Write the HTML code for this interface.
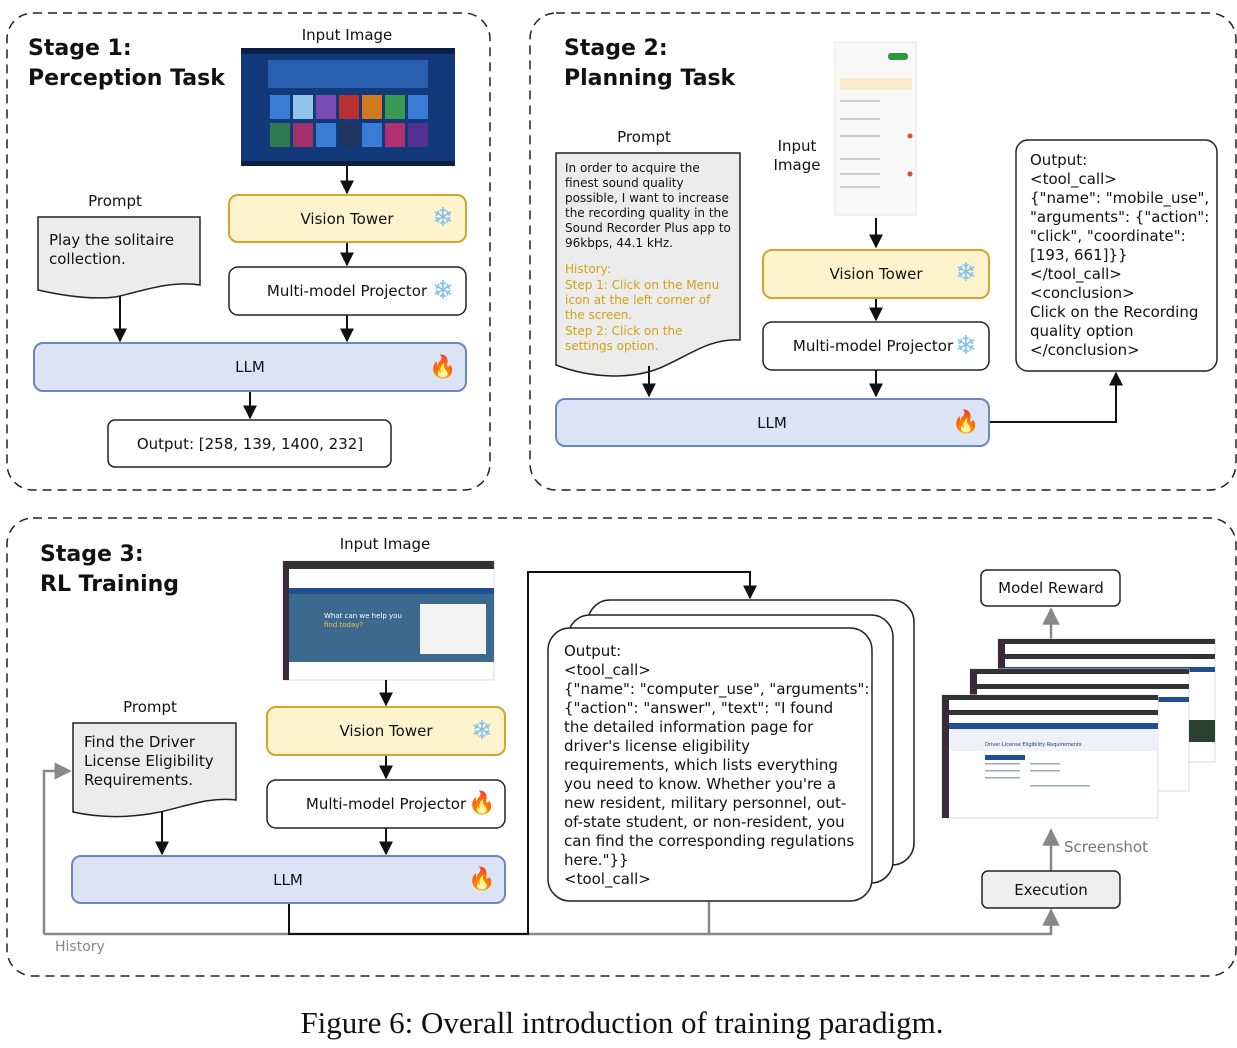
<!DOCTYPE html>
<html><head><meta charset="utf-8"><style>
body{margin:0;background:#fff;}
svg text{font-family:"DejaVu Sans","Liberation Sans",sans-serif;fill:#111;}
.t{font-size:15px}
.s{font-size:12px}
.h{font-size:22px;font-weight:bold}
</style></head><body>
<svg width="1237" height="1043" viewBox="0 0 1237 1043" xmlns="http://www.w3.org/2000/svg">
<defs>
<marker id="a" viewBox="0 0 10 10" refX="9" refY="5" markerWidth="7" markerHeight="7" orient="auto"><path d="M0,0L10,5L0,10z" fill="#111"/></marker>
<marker id="g" viewBox="0 0 10 10" refX="9" refY="5" markerWidth="7" markerHeight="7" orient="auto"><path d="M0,0L10,5L0,10z" fill="#888"/></marker>
</defs>
<g fill="none" stroke="#222" stroke-width="1.5" stroke-dasharray="9,6">
<rect x="7" y="13" width="483" height="477" rx="26"/>
<rect x="530" y="13" width="706" height="477" rx="26"/>
<rect x="7" y="518" width="1229" height="458" rx="26"/>
</g>
<!-- Stage 1 -->
<text class="h" x="28" y="55">Stage 1:</text>
<text class="h" x="28" y="85">Perception Task</text>
<text class="t" x="347" y="40" text-anchor="middle">Input Image</text>
<rect x="241" y="48" width="214" height="118" fill="#123a7a"/>
<rect x="241" y="48" width="214" height="6" fill="#0c1f44"/>
<rect x="268" y="60" width="160" height="28" fill="#2a5fb0"/>
<g fill="#3a7bd5"><rect x="270" y="95" width="20" height="24"/><rect x="293" y="95" width="20" height="24" fill="#8fc3e8"/><rect x="316" y="95" width="20" height="24" fill="#7a4bb0"/><rect x="339" y="95" width="20" height="24" fill="#b83030"/><rect x="362" y="95" width="20" height="24" fill="#d07a20"/><rect x="385" y="95" width="20" height="24" fill="#3a9a50"/><rect x="408" y="95" width="20" height="24"/>
<rect x="270" y="123" width="20" height="24" fill="#2f7a50"/><rect x="293" y="123" width="20" height="24" fill="#a0306a"/><rect x="316" y="123" width="20" height="24"/><rect x="339" y="123" width="20" height="24" fill="#1e3560"/><rect x="362" y="123" width="20" height="24"/><rect x="385" y="123" width="20" height="24" fill="#b03070"/><rect x="408" y="123" width="20" height="24" fill="#503090"/></g>
<rect x="241" y="161" width="214" height="5" fill="#0c1f44"/>
<g stroke="#111" stroke-width="2" fill="none">
<line x1="347" y1="166" x2="347" y2="193" marker-end="url(#a)"/>
<line x1="347" y1="242" x2="347" y2="265" marker-end="url(#a)"/>
<line x1="347" y1="315" x2="347" y2="341" marker-end="url(#a)"/>
<line x1="120" y1="292" x2="120" y2="341" marker-end="url(#a)"/>
<line x1="250" y1="391" x2="250" y2="418" marker-end="url(#a)"/>
</g>
<rect x="229" y="195" width="237" height="47" rx="9" fill="#fdf3cc" stroke="#d4a52a" stroke-width="2"/>
<text class="t" x="347" y="224" text-anchor="middle">Vision Tower</text>
<text x="443" y="226" font-size="26" text-anchor="middle" style="fill:#7fc0ee">❄</text>
<rect x="229" y="267" width="237" height="48" rx="9" fill="#fff" stroke="#222" stroke-width="1.5"/>
<text class="t" x="347" y="296" text-anchor="middle">Multi-model Projector</text>
<text x="443" y="299" font-size="26" text-anchor="middle" style="fill:#7fc0ee">❄</text>
<text class="t" x="115" y="206" text-anchor="middle">Prompt</text>
<path d="M38,217H200V285C170,280 140,292 115,297C90,300 60,295 38,290Z" fill="#ececec" stroke="#222" stroke-width="1.5"/>
<text class="t" x="49" y="245">Play the solitaire</text>
<text class="t" x="49" y="264">collection.</text>
<rect x="34" y="343" width="432" height="48" rx="9" fill="#dbe4f5" stroke="#6b86c0" stroke-width="2"/>
<text class="t" x="250" y="372" text-anchor="middle">LLM</text>
<text x="443" y="374" font-size="22" text-anchor="middle">🔥</text>
<rect x="108" y="420" width="283" height="47" rx="7" fill="#fff" stroke="#222" stroke-width="1.5"/>
<text class="t" x="250" y="449" text-anchor="middle">Output: [258, 139, 1400, 232]</text>
<!-- Stage 2 -->
<text class="h" x="564" y="55">Stage 2:</text>
<text class="h" x="564" y="85">Planning Task</text>
<text class="t" x="644" y="142" text-anchor="middle">Prompt</text>
<path d="M556,153H740V340C710,338 690,355 660,368C630,380 590,378 556,365Z" fill="#ececec" stroke="#222" stroke-width="1.5"/>
<g class="s">
<text x="565" y="172">In order to acquire the</text>
<text x="565" y="187">finest sound quality</text>
<text x="565" y="202">possible, I want to increase</text>
<text x="565" y="217">the recording quality in the</text>
<text x="565" y="232">Sound Recorder Plus app to</text>
<text x="565" y="247">96kbps, 44.1 kHz.</text>
<text x="565" y="273" style="fill:#d4a017">History:</text>
<text x="565" y="289" style="fill:#d4a017">Step 1: Click on the Menu</text>
<text x="565" y="304" style="fill:#d4a017">icon at the left corner of</text>
<text x="565" y="319" style="fill:#d4a017">the screen.</text>
<text x="565" y="335" style="fill:#d4a017">Step 2: Click on the</text>
<text x="565" y="350" style="fill:#d4a017">settings option.</text>
</g>
<text class="t" x="797" y="151" text-anchor="middle">Input</text>
<text class="t" x="797" y="170" text-anchor="middle">Image</text>
<rect x="835" y="42" width="81" height="173" fill="#f8f8f8" stroke="#e4e4e4"/>
<rect x="840" y="78" width="72" height="12" fill="#fbeccd"/>
<rect x="888" y="53" width="20" height="7" rx="3" fill="#2a9a3a"/>
<g fill="#ccc"><rect x="840" y="100" width="40" height="2"/><rect x="840" y="118" width="40" height="2"/><rect x="840" y="135" width="40" height="2"/><rect x="840" y="158" width="40" height="2"/><rect x="840" y="173" width="40" height="2"/><rect x="840" y="186" width="40" height="2"/></g>
<g fill="#e04a2a"><circle cx="910" cy="136" r="2.5"/><circle cx="910" cy="174" r="2.5"/></g>
<g stroke="#111" stroke-width="2" fill="none">
<line x1="876" y1="218" x2="876" y2="247" marker-end="url(#a)"/>
<line x1="876" y1="298" x2="876" y2="320" marker-end="url(#a)"/>
<line x1="876" y1="370" x2="876" y2="396" marker-end="url(#a)"/>
<line x1="649" y1="366" x2="649" y2="396" marker-end="url(#a)"/>
<polyline points="989,422 1116,422 1116,373" marker-end="url(#a)"/>
</g>
<rect x="763" y="250" width="226" height="48" rx="9" fill="#fdf3cc" stroke="#d4a52a" stroke-width="2"/>
<text class="t" x="876" y="279" text-anchor="middle">Vision Tower</text>
<text x="966" y="281" font-size="26" text-anchor="middle" style="fill:#7fc0ee">❄</text>
<rect x="763" y="322" width="226" height="48" rx="9" fill="#fff" stroke="#222" stroke-width="1.5"/>
<text class="t" x="873" y="351" text-anchor="middle">Multi-model Projector</text>
<text x="966" y="354" font-size="26" text-anchor="middle" style="fill:#7fc0ee">❄</text>
<rect x="556" y="399" width="433" height="47" rx="9" fill="#dbe4f5" stroke="#6b86c0" stroke-width="2"/>
<text class="t" x="772" y="428" text-anchor="middle">LLM</text>
<text x="966" y="429" font-size="22" text-anchor="middle">🔥</text>
<rect x="1016" y="140" width="201" height="231" rx="12" fill="#fff" stroke="#222" stroke-width="1.5"/>
<g class="t" font-size="14.5">
<text x="1030" y="165">Output:</text>
<text x="1030" y="184">&lt;tool_call&gt;</text>
<text x="1030" y="203">{"name": "mobile_use",</text>
<text x="1030" y="222">"arguments": {"action":</text>
<text x="1030" y="241">"click", "coordinate":</text>
<text x="1030" y="260">[193, 661]}}</text>
<text x="1030" y="279">&lt;/tool_call&gt;</text>
<text x="1030" y="298">&lt;conclusion&gt;</text>
<text x="1030" y="317">Click on the Recording</text>
<text x="1030" y="336">quality option</text>
<text x="1030" y="355">&lt;/conclusion&gt;</text>
</g>
<!-- Stage 3 -->
<text class="h" x="40" y="561">Stage 3:</text>
<text class="h" x="40" y="591">RL Training</text>
<text class="t" x="385" y="549" text-anchor="middle">Input Image</text>
<rect x="283" y="561" width="211" height="119" fill="#fff" stroke="#ddd"/>
<rect x="283" y="561" width="211" height="8" fill="#333"/>
<rect x="283" y="569" width="6" height="111" fill="#3a2a3a"/>
<rect x="289" y="588" width="205" height="6" fill="#1d4f91"/>
<rect x="289" y="594" width="205" height="68" fill="#3c6a8e"/>
<rect x="420" y="604" width="66" height="50" fill="#f4f4f4"/>
<text x="324" y="618" font-size="7" style="fill:#fff">What can we help you</text>
<text x="324" y="627" font-size="7" style="fill:#f0c040">find today?</text>
<g stroke="#888" stroke-width="2.5" fill="none">
<polyline points="44,934 1051,934 1051,910" marker-end="url(#g)"/>
<polyline points="44,934 44,771 70,771" marker-end="url(#g)"/>
<line x1="709" y1="901" x2="709" y2="934"/>
<line x1="1051" y1="871" x2="1051" y2="830" marker-end="url(#g)"/>
<line x1="1051" y1="640" x2="1051" y2="609" marker-end="url(#g)"/>
</g>
<g stroke="#111" stroke-width="2" fill="none">
<line x1="386" y1="680" x2="386" y2="705" marker-end="url(#a)"/>
<line x1="386" y1="755" x2="386" y2="778" marker-end="url(#a)"/>
<line x1="386" y1="828" x2="386" y2="854" marker-end="url(#a)"/>
<line x1="162" y1="808" x2="162" y2="854" marker-end="url(#a)"/>
<polyline points="289,903 289,934 528,934 528,572 750,572 750,598" marker-end="url(#a)"/>
</g>
<text x="55" y="951" font-size="14" style="fill:#888">History</text>
<text x="1064" y="852" font-size="15" style="fill:#777">Screenshot</text>
<text class="t" x="150" y="712" text-anchor="middle">Prompt</text>
<path d="M73,723H236V800C210,797 190,805 160,812C130,818 100,818 73,812Z" fill="#ececec" stroke="#222" stroke-width="1.5"/>
<text class="t" x="84" y="747">Find the Driver</text>
<text class="t" x="84" y="766">License Eligibility</text>
<text class="t" x="84" y="785">Requirements.</text>
<rect x="267" y="707" width="238" height="48" rx="9" fill="#fdf3cc" stroke="#d4a52a" stroke-width="2"/>
<text class="t" x="386" y="736" text-anchor="middle">Vision Tower</text>
<text x="482" y="739" font-size="26" text-anchor="middle" style="fill:#7fc0ee">❄</text>
<rect x="267" y="780" width="238" height="48" rx="9" fill="#fff" stroke="#222" stroke-width="1.5"/>
<text class="t" x="386" y="809" text-anchor="middle">Multi-model Projector</text>
<text x="482" y="810" font-size="22" text-anchor="middle">🔥</text>
<rect x="72" y="856" width="433" height="47" rx="9" fill="#dbe4f5" stroke="#6b86c0" stroke-width="2"/>
<text class="t" x="288" y="885" text-anchor="middle">LLM</text>
<text x="482" y="886" font-size="22" text-anchor="middle">🔥</text>
<rect x="588" y="600" width="326" height="265" rx="22" fill="#fff" stroke="#222" stroke-width="1.5"/>
<rect x="568" y="615" width="325" height="268" rx="22" fill="#fff" stroke="#222" stroke-width="1.5"/>
<rect x="548" y="628" width="324" height="273" rx="22" fill="#fff" stroke="#222" stroke-width="1.5"/>
<g class="t" font-size="14.3">
<text x="564" y="656">Output:</text>
<text x="564" y="675">&lt;tool_call&gt;</text>
<text x="564" y="694">{"name": "computer_use", "arguments":</text>
<text x="564" y="713">{"action": "answer", "text": "I found</text>
<text x="564" y="732">the detailed information page for</text>
<text x="564" y="751">driver's license eligibility</text>
<text x="564" y="770">requirements, which lists everything</text>
<text x="564" y="789">you need to know. Whether you're a</text>
<text x="564" y="808">new resident, military personnel, out-</text>
<text x="564" y="827">of-state student, or non-resident, you</text>
<text x="564" y="846">can find the corresponding regulations</text>
<text x="564" y="865">here."}}</text>
<text x="564" y="884">&lt;tool_call&gt;</text>
</g>
<rect x="981" y="570" width="139" height="36" rx="6" fill="#fff" stroke="#222" stroke-width="1.5"/>
<text class="t" x="1051" y="593" text-anchor="middle">Model Reward</text>
<g>
<rect x="998" y="639" width="217" height="123" fill="#fff" stroke="#ddd"/>
<rect x="998" y="639" width="217" height="5" fill="#333"/><rect x="998" y="644" width="7" height="118" fill="#3a2a3a"/>
<rect x="1005" y="654" width="210" height="5" fill="#333"/><rect x="1005" y="667" width="210" height="5" fill="#1d4f91"/>
<rect x="970" y="669" width="219" height="122" fill="#fff" stroke="#ddd"/>
<rect x="970" y="669" width="219" height="5" fill="#333"/><rect x="970" y="674" width="7" height="117" fill="#3a2a3a"/>
<rect x="977" y="684" width="212" height="5" fill="#333"/><rect x="977" y="697" width="212" height="5" fill="#1d4f91"/>
<rect x="1189" y="720" width="26" height="22" fill="#2a4030"/>
<rect x="942" y="695" width="216" height="123" fill="#fff" stroke="#ddd"/>
<rect x="942" y="695" width="216" height="5" fill="#333"/><rect x="942" y="700" width="7" height="118" fill="#3a2a3a"/>
<rect x="949" y="710" width="209" height="5" fill="#333"/><rect x="949" y="723" width="209" height="6" fill="#1d4f91"/>
<rect x="949" y="729" width="209" height="22" fill="#eef2f8"/>
<text x="985" y="746" font-size="5" style="fill:#1d3a6a">Driver License Eligibility Requirements</text>
<rect x="985" y="755" width="40" height="5" fill="#1d4f91"/>
<g fill="#9ab"><rect x="985" y="763" width="35" height="1.5"/><rect x="985" y="770" width="35" height="1.5"/><rect x="985" y="777" width="35" height="1.5"/><rect x="1030" y="763" width="30" height="1.5"/><rect x="1030" y="770" width="30" height="1.5"/><rect x="1030" y="785" width="60" height="1.5"/></g>
</g>
<rect x="982" y="871" width="138" height="37" rx="6" fill="#eee" stroke="#222" stroke-width="1.5"/>
<text class="t" x="1051" y="895" text-anchor="middle">Execution</text>
<text x="622" y="1033" text-anchor="middle" font-size="31" style="font-family:'Liberation Serif',serif">Figure 6: Overall introduction of training paradigm.</text>
</svg>
</body></html>
